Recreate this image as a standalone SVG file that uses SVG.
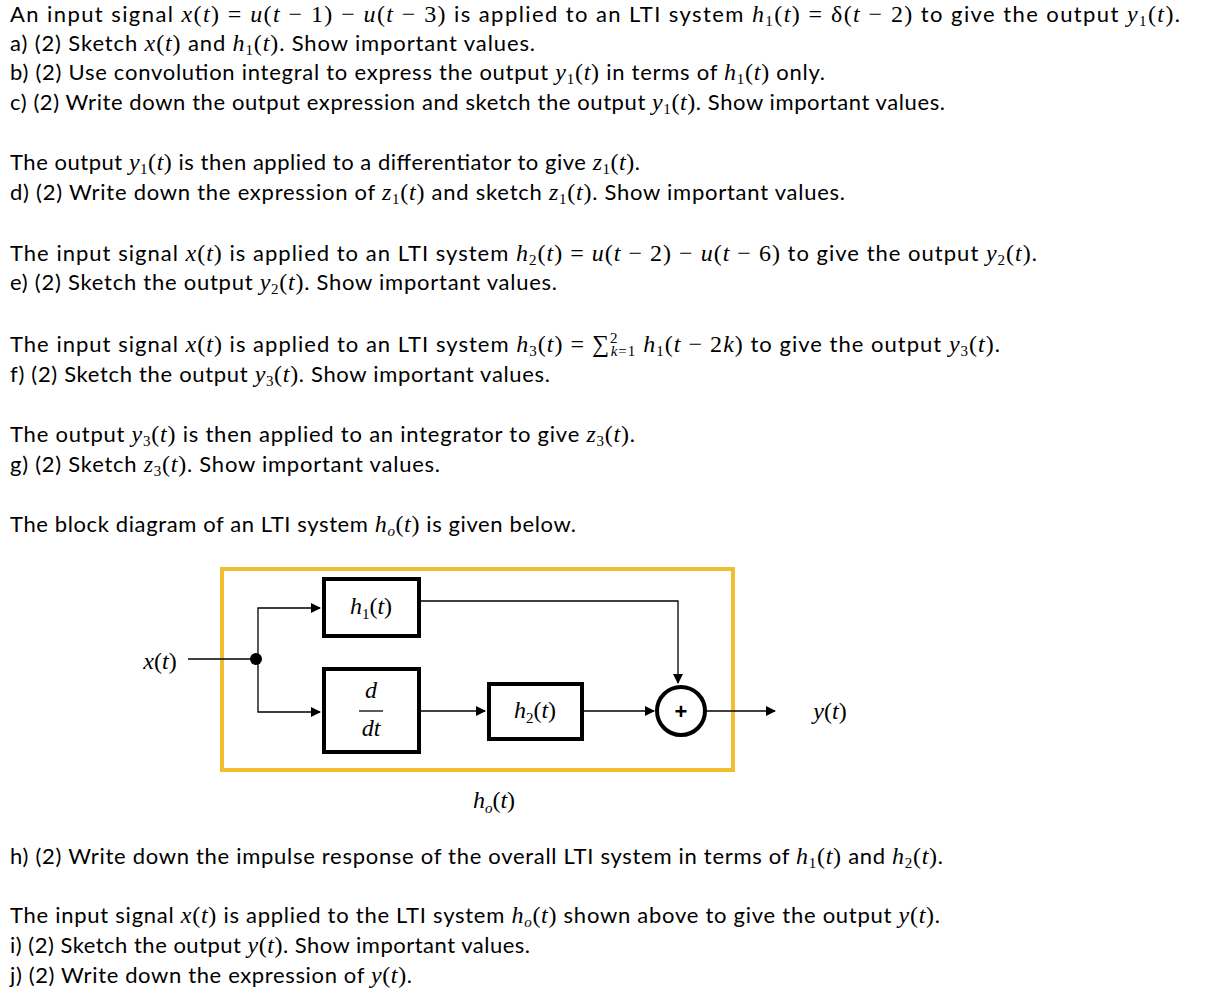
<svg xmlns="http://www.w3.org/2000/svg" width="1210" height="1006" viewBox="0 0 1210 1006">
<defs>
<marker id="ah" markerWidth="10" markerHeight="10" refX="9" refY="5" orient="auto" markerUnits="userSpaceOnUse"><path d="M0,0 L10,5 L0,10 z" fill="#000"/></marker>
<style>
.t{font-family:Lato,"Liberation Sans",sans-serif;font-size:22px;fill:#000}
.m{font-family:"Liberation Serif",serif;font-style:italic;font-size:24px}
.n{font-family:"Liberation Serif",serif;font-style:normal;font-size:24px}
.s{font-size:15px}
.box{fill:#fff;stroke:#000;stroke-width:4}
.ln{fill:none;stroke:#000;stroke-width:1.3}
.d{font-family:"Liberation Serif",serif;font-style:italic;font-size:24px}
</style>
</defs>
<rect width="1210" height="1006" fill="#fff"/>
<g id="text">
<text class="t" x="10" y="22" textLength="1170" lengthAdjust="spacing">An input signal <tspan class="m">x</tspan><tspan class="n">(</tspan><tspan class="m">t</tspan><tspan class="n">) = </tspan><tspan class="m">u</tspan><tspan class="n">(</tspan><tspan class="m">t</tspan><tspan class="n"> − 1) − </tspan><tspan class="m">u</tspan><tspan class="n">(</tspan><tspan class="m">t</tspan><tspan class="n"> − 3)</tspan> is applied to an LTI system <tspan class="m">h</tspan><tspan class="n s" dy="4">1</tspan><tspan class="n" dy="-4">(</tspan><tspan class="m">t</tspan><tspan class="n">) = δ(</tspan><tspan class="m">t</tspan><tspan class="n"> − 2)</tspan> to give the output <tspan class="m">y</tspan><tspan class="n s" dy="4">1</tspan><tspan class="n" dy="-4">(</tspan><tspan class="m">t</tspan><tspan class="n">)</tspan>.</text>
<text class="t" x="10" y="51" textLength="525" lengthAdjust="spacing">a) (2) Sketch <tspan class="m">x</tspan><tspan class="n">(</tspan><tspan class="m">t</tspan><tspan class="n">)</tspan> and <tspan class="m">h</tspan><tspan class="n s" dy="4">1</tspan><tspan class="n" dy="-4">(</tspan><tspan class="m">t</tspan><tspan class="n">)</tspan>. Show important values.</text>
<text class="t" x="10" y="80" textLength="815" lengthAdjust="spacing">b) (2) Use convolution integral to express the output <tspan class="m">y</tspan><tspan class="n s" dy="4">1</tspan><tspan class="n" dy="-4">(</tspan><tspan class="m">t</tspan><tspan class="n">)</tspan> in terms of <tspan class="m">h</tspan><tspan class="n s" dy="4">1</tspan><tspan class="n" dy="-4">(</tspan><tspan class="m">t</tspan><tspan class="n">)</tspan> only.</text>
<text class="t" x="10" y="110" textLength="935" lengthAdjust="spacing">c) (2) Write down the output expression and sketch the output <tspan class="m">y</tspan><tspan class="n s" dy="4">1</tspan><tspan class="n" dy="-4">(</tspan><tspan class="m">t</tspan><tspan class="n">)</tspan>. Show important values.</text>
<text class="t" x="10" y="170" textLength="630" lengthAdjust="spacing">The output <tspan class="m">y</tspan><tspan class="n s" dy="4">1</tspan><tspan class="n" dy="-4">(</tspan><tspan class="m">t</tspan><tspan class="n">)</tspan> is then applied to a differentiator to give <tspan class="m">z</tspan><tspan class="n s" dy="4">1</tspan><tspan class="n" dy="-4">(</tspan><tspan class="m">t</tspan><tspan class="n">)</tspan>.</text>
<text class="t" x="10" y="200" textLength="835" lengthAdjust="spacing">d) (2) Write down the expression of <tspan class="m">z</tspan><tspan class="n s" dy="4">1</tspan><tspan class="n" dy="-4">(</tspan><tspan class="m">t</tspan><tspan class="n">)</tspan> and sketch <tspan class="m">z</tspan><tspan class="n s" dy="4">1</tspan><tspan class="n" dy="-4">(</tspan><tspan class="m">t</tspan><tspan class="n">)</tspan>. Show important values.</text>
<text class="t" x="10" y="261" textLength="1027" lengthAdjust="spacing">The input signal <tspan class="m">x</tspan><tspan class="n">(</tspan><tspan class="m">t</tspan><tspan class="n">)</tspan> is applied to an LTI system <tspan class="m">h</tspan><tspan class="n s" dy="4">2</tspan><tspan class="n" dy="-4">(</tspan><tspan class="m">t</tspan><tspan class="n">) = </tspan><tspan class="m">u</tspan><tspan class="n">(</tspan><tspan class="m">t</tspan><tspan class="n"> − 2) − </tspan><tspan class="m">u</tspan><tspan class="n">(</tspan><tspan class="m">t</tspan><tspan class="n"> − 6)</tspan> to give the output <tspan class="m">y</tspan><tspan class="n s" dy="4">2</tspan><tspan class="n" dy="-4">(</tspan><tspan class="m">t</tspan><tspan class="n">)</tspan>.</text>
<text class="t" x="10" y="290" textLength="547" lengthAdjust="spacing">e) (2) Sketch the output <tspan class="m">y</tspan><tspan class="n s" dy="4">2</tspan><tspan class="n" dy="-4">(</tspan><tspan class="m">t</tspan><tspan class="n">)</tspan>. Show important values.</text>
<text class="t" x="10" y="352" textLength="990" lengthAdjust="spacing">The input signal <tspan class="m">x</tspan><tspan class="n">(</tspan><tspan class="m">t</tspan><tspan class="n">)</tspan> is applied to an LTI system <tspan class="m">h</tspan><tspan class="n s" dy="4">3</tspan><tspan class="n" dy="-4">(</tspan><tspan class="m">t</tspan><tspan class="n">) = ∑</tspan><tspan class="n s" dy="-9">2</tspan><tspan class="m s" dx="-8" dy="13">k</tspan><tspan class="n s">=1</tspan><tspan class="m" dy="-4"> h</tspan><tspan class="n s" dy="4">1</tspan><tspan class="n" dy="-4">(</tspan><tspan class="m">t</tspan><tspan class="n"> − 2</tspan><tspan class="m">k</tspan><tspan class="n">)</tspan> to give the output <tspan class="m">y</tspan><tspan class="n s" dy="4">3</tspan><tspan class="n" dy="-4">(</tspan><tspan class="m">t</tspan><tspan class="n">)</tspan>.</text>
<text class="t" x="10" y="382" textLength="540" lengthAdjust="spacing">f) (2) Sketch the output <tspan class="m">y</tspan><tspan class="n s" dy="4">3</tspan><tspan class="n" dy="-4">(</tspan><tspan class="m">t</tspan><tspan class="n">)</tspan>. Show important values.</text>
<text class="t" x="10" y="442" textLength="625" lengthAdjust="spacing">The output <tspan class="m">y</tspan><tspan class="n s" dy="4">3</tspan><tspan class="n" dy="-4">(</tspan><tspan class="m">t</tspan><tspan class="n">)</tspan> is then applied to an integrator to give <tspan class="m">z</tspan><tspan class="n s" dy="4">3</tspan><tspan class="n" dy="-4">(</tspan><tspan class="m">t</tspan><tspan class="n">)</tspan>.</text>
<text class="t" x="10" y="472" textLength="430" lengthAdjust="spacing">g) (2) Sketch <tspan class="m">z</tspan><tspan class="n s" dy="4">3</tspan><tspan class="n" dy="-4">(</tspan><tspan class="m">t</tspan><tspan class="n">)</tspan>. Show important values.</text>
<text class="t" x="10" y="532" textLength="566" lengthAdjust="spacing">The block diagram of an LTI system <tspan class="m">h</tspan><tspan class="m s" dy="4">o</tspan><tspan class="n" dy="-4">(</tspan><tspan class="m">t</tspan><tspan class="n">)</tspan> is given below.</text>
<text class="t" x="10" y="864" textLength="933" lengthAdjust="spacing">h) (2) Write down the impulse response of the overall LTI system in terms of <tspan class="m">h</tspan><tspan class="n s" dy="4">1</tspan><tspan class="n" dy="-4">(</tspan><tspan class="m">t</tspan><tspan class="n">)</tspan> and <tspan class="m">h</tspan><tspan class="n s" dy="4">2</tspan><tspan class="n" dy="-4">(</tspan><tspan class="m">t</tspan><tspan class="n">)</tspan>.</text>
<text class="t" x="10" y="923" textLength="930" lengthAdjust="spacing">The input signal <tspan class="m">x</tspan><tspan class="n">(</tspan><tspan class="m">t</tspan><tspan class="n">)</tspan> is applied to the LTI system <tspan class="m">h</tspan><tspan class="m s" dy="4">o</tspan><tspan class="n" dy="-4">(</tspan><tspan class="m">t</tspan><tspan class="n">)</tspan> shown above to give the output <tspan class="m">y</tspan><tspan class="n">(</tspan><tspan class="m">t</tspan><tspan class="n">)</tspan>.</text>
<text class="t" x="10" y="953" textLength="520" lengthAdjust="spacing">i) (2) Sketch the output <tspan class="m">y</tspan><tspan class="n">(</tspan><tspan class="m">t</tspan><tspan class="n">)</tspan>. Show important values.</text>
<text class="t" x="10" y="983" textLength="402" lengthAdjust="spacing">j) (2) Write down the expression of <tspan class="m">y</tspan><tspan class="n">(</tspan><tspan class="m">t</tspan><tspan class="n">)</tspan>.</text>
</g>
<g id="frame"><rect x="222" y="569" width="511" height="201" fill="none" stroke="#F2BE2F" stroke-width="4"/>
<text class="d" x="494" y="808" text-anchor="middle">h<tspan font-size="15" dy="5">o</tspan><tspan font-style="normal" dy="-5">(</tspan>t<tspan font-style="normal">)</tspan></text></g>
<g id="connectors">
<path class="ln" d="M188,659 H254"/>
<path class="ln" d="M258,659 V608 H320" marker-end="url(#ah)"/>
<path class="ln" d="M258,659 V712 H320" marker-end="url(#ah)"/>
<path class="ln" d="M420,601 H678 V683" marker-end="url(#ah)"/>
<path class="ln" d="M420,711 H485" marker-end="url(#ah)"/>
<path class="ln" d="M583,711 H654" marker-end="url(#ah)"/>
<path class="ln" d="M706,711 H775" marker-end="url(#ah)"/>
<circle cx="256" cy="659" r="6" fill="#000"/>
</g>
<g id="x"><text class="d" x="160" y="669" text-anchor="middle">x<tspan font-style="normal">(</tspan>t<tspan font-style="normal">)</tspan></text></g>
<g id="h1"><rect class="box" x="324" y="579" width="95" height="57"/><text class="d" x="371" y="614" text-anchor="middle">h<tspan font-style="normal" font-size="15" dy="5">1</tspan><tspan font-style="normal" dy="-5">(</tspan>t<tspan font-style="normal">)</tspan></text></g>
<g id="ddt"><rect class="box" x="324" y="669" width="95" height="83"/><text class="d" x="371" y="698" text-anchor="middle">d</text><line x1="359" y1="711" x2="383" y2="711" stroke="#000" stroke-width="1.3"/><text class="d" x="371" y="736" text-anchor="middle">dt</text></g>
<g id="h2"><rect class="box" x="489" y="684" width="93" height="55"/><text class="d" x="535" y="718" text-anchor="middle">h<tspan font-style="normal" font-size="15" dy="5">2</tspan><tspan font-style="normal" dy="-5">(</tspan>t<tspan font-style="normal">)</tspan></text></g>
<g id="sum"><circle cx="681" cy="711" r="24" fill="#fff" stroke="#000" stroke-width="4"/><text x="681" y="719" text-anchor="middle" font-family="Liberation Sans,sans-serif" font-weight="bold" font-size="22">+</text></g>
<g id="y"><text class="d" x="830" y="719" text-anchor="middle">y<tspan font-style="normal">(</tspan>t<tspan font-style="normal">)</tspan></text></g>
</svg>
